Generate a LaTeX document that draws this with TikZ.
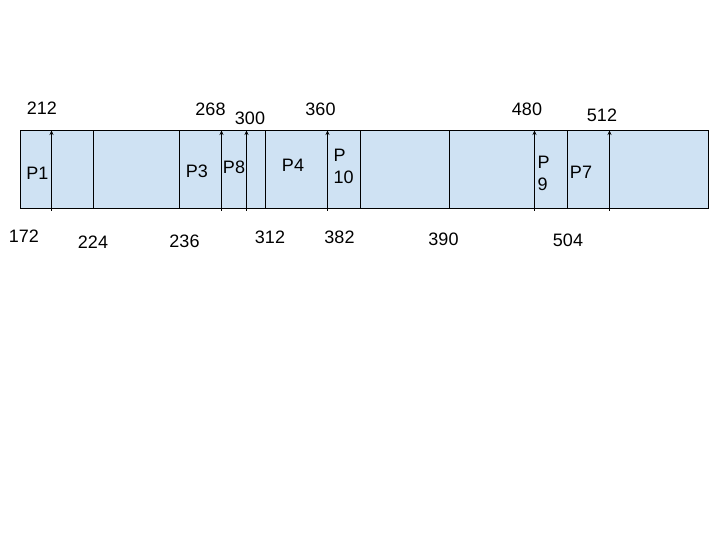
\documentclass[tikz,border=0pt]{standalone}
\usepackage{fontspec}
\setmainfont{Liberation Sans}
\usetikzlibrary{arrows.meta}
\definecolor{barblue}{HTML}{CFE2F3}
\tikzset{
  lbl/.style={inner sep=0pt, font=\fontsize{18}{22}\selectfont},
  lbl2/.style={inner sep=0pt, anchor=west, align=left, font=\fontsize{18}{22}\selectfont},
  divider/.style={draw=black, line width=1pt},
  pointer/.style={draw=black, line width=1pt, -{Stealth[length=4.5pt,width=4pt]}},
}
\begin{document}
\begin{tikzpicture}[x=1pt,y=-1pt]
\useasboundingbox (0,0) rectangle (720,540);
\node[draw=black, line width=1pt, fill=barblue, minimum width=688pt, minimum height=78pt, inner sep=0pt, anchor=north west] (bar) at (19.5,130.5) {};
% plain dividers
\foreach \x in {93,179,265,360,449,567}
  \draw[divider] (\x,130.5) -- (\x,208.5);
% arrows
\foreach \x in {51.5,221.5,246.5,327.5,534.5,609.5}
  \draw[pointer] (\x,211) -- (\x,130.5);
% top labels
\node[lbl] (t212) at (42,108.5) {212};
\node[lbl] (t268) at (210.5,109.5) {268};
\node[lbl] (t300) at (250,118.5) {300};
\node[lbl] (t360) at (320.5,109) {360};
\node[lbl] (t480) at (527,109.5) {480};
\node[lbl] (t512) at (602,115) {512};
% bottom labels
\node[lbl] (b172) at (24,236.5) {172};
\node[lbl] (b224) at (93,242.5) {224};
\node[lbl] (b236) at (184.5,241) {236};
\node[lbl] (b312) at (270,237.5) {312};
\node[lbl] (b382) at (339.5,237.5) {382};
\node[lbl] (b390) at (443.5,239.5) {390};
\node[lbl] (b504) at (568,240.5) {504};
% inside labels
\node[lbl] (p1) at (37.5,173) {P1};
\node[lbl] (p3) at (197,171) {P3};
\node[lbl] (p8) at (234,167) {P8};
\node[lbl] (p4) at (293,165.5) {P4};
\node[lbl2] (p10) at (333.5,166.5) {P\\10};
\node[lbl2] (p9) at (537.5,173) {P\\9};
\node[lbl] (p7) at (581,172.5) {P7};
\end{tikzpicture}
\end{document}
